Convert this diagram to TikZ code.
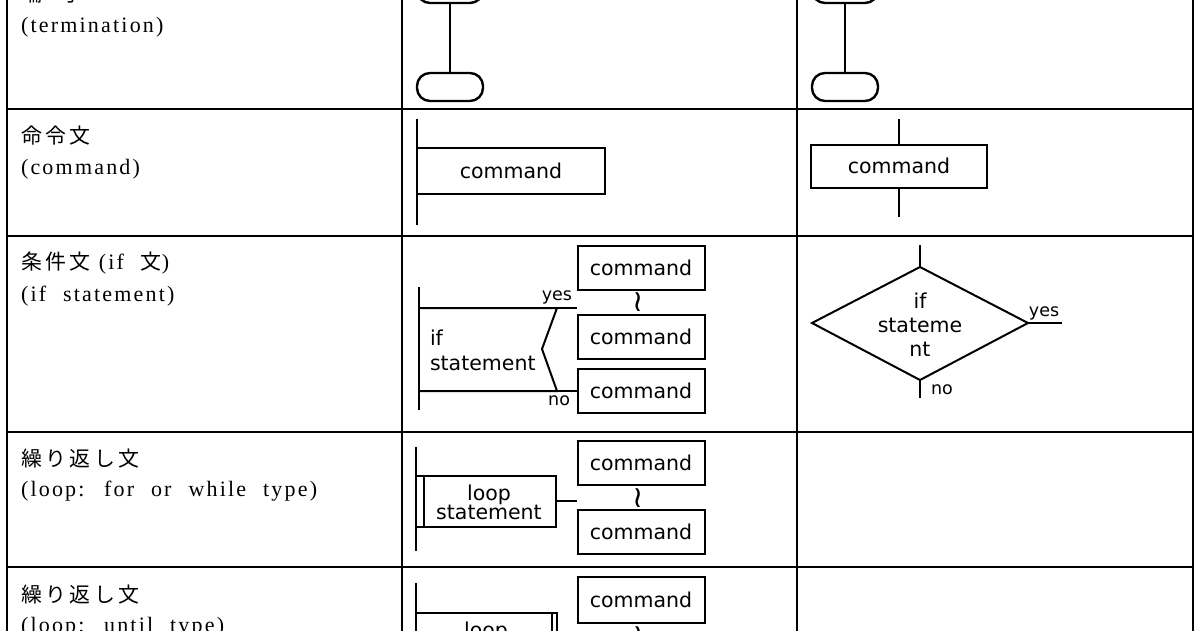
\documentclass[tikz,border=0pt]{standalone}
\usepackage{fontspec}
\setmainfont{Liberation Serif}
\newfontfamily\jpf{Noto Sans CJK JP}[Scale=0.95]
\newfontfamily\lab{Liberation Serif}[LetterSpace=10,WordSpace=2.2]
\newfontfamily\dvs{DejaVu Sans}
\begin{document}
\begin{tikzpicture}[x=1pt,y=-1pt,line width=2pt,
  tbl/.style={line width=1.6pt},
  cbox/.style={draw,line width=2pt,minimum width=127pt,minimum height=44pt,inner sep=0pt,font=\dvs\fontsize{20.5}{24}\selectfont},
  term/.style={draw,line width=2.4pt,rounded corners=13pt,minimum width=66pt,minimum height=28pt},
  lbl/.style={anchor=west,inner sep=0pt,font=\fontsize{22}{26}\selectfont},
  dt/.style={inner sep=0pt,font=\dvs\fontsize{20.5}{24}\selectfont},
  wv/.style={inner sep=0pt,font=\dvs\fontsize{30}{30}\selectfont},
  st/.style={inner sep=0pt,font=\dvs\fontsize{17.5}{20}\selectfont}]
\useasboundingbox (0,0) rectangle (1200,630);
\clip (0,0) rectangle (1200,630);
% table
\draw[tbl] (7,-10) -- (7,640) (402,-10) -- (402,640) (797,-10) -- (797,640) (1193,-10) -- (1193,640);
\foreach \y in {109,236,432,567} \draw[tbl] (7,\y) -- (1193,\y);
% left labels
\node[lbl] (l1a) at (20,-6) {\jpf 端　子};
\node[lbl] (l1b) at (20,27) {\lab (termination)};
\node[lbl] (l2a) at (20,136) {\jpf 命\,令\,文};
\node[lbl] (l2b) at (20,169) {\lab (command)};
\node[lbl] (l3a) at (20,263) {\jpf 条\,件\,文\, \lab (if \jpf 文\lab )};
\node[lbl] (l3b) at (20,296) {\lab (if statement)};
\node[lbl] (l4a) at (20,459) {\jpf 繰\,り\,返\,し\,文};
\node[lbl] (l4b) at (20,491) {\lab (loop: for or while type)};
\node[lbl] (l5a) at (20,595) {\jpf 繰\,り\,返\,し\,文};
\node[lbl] (l5b) at (20,627) {\lab (loop: until type)};
% row1 terminals
\node[term] (t1a) at (450,-11) {};
\node[term] (t1b) at (450,87) {};
\draw (t1a) -- (t1b);
\node[term] (t2a) at (845,-11) {};
\node[term] (t2b) at (845,87) {};
\draw (t2a) -- (t2b);
% row2
\draw (417,119) -- (417,225);
\node[cbox,minimum width=188pt,minimum height=46pt] (c1) at (511,171) {command};
\node[cbox,minimum width=176pt,minimum height=43pt] (c2) at (899,166) {command};
\coordinate (c2t) at (899,119); \coordinate (c2b) at (899,217);
\draw (c2t) -- (c2.north) (c2.south) -- (c2b);
% row3 PAD if
\draw (419,287) -- (419,410);
\coordinate (ya) at (557,308); \coordinate (ap) at (542,349); \coordinate (na) at (557,391);
\node[cbox] (i1) at (641,268) {command};
\node[cbox] (i2) at (641,337) {command};
\node[cbox] (i3) at (641,391) {command};
\draw (419,308) -- (ya) -- (ap) -- (na) -- (419,391);
\draw (ya) -- (i1.west |- ya);
\draw (na) -- (i3.west |- na);
\node[st,anchor=south east] (yes1) at (573,305) {yes};
\node[st,anchor=north east] (no1) at (571,395) {no};
\node[dt,anchor=west] (if1) at (429,338) {if};
\node[dt,anchor=west] (if2) at (429,363) {statement};
\node[wv] (w1) at (638,302) {≀};
% row3 diamond
\coordinate (dt) at (920,267); \coordinate (dr) at (1028,323); \coordinate (db) at (920,380); \coordinate (dl) at (812,323);
\draw (dt) -- (dr) -- (db) -- (dl) -- cycle;
\draw (920,245) -- (dt) (db) -- (920,398) (dr) -- (1062,323);
\node[dt,align=center] (dtext) at (920,325) {if\\[0pt]stateme\\[0pt]nt};
\node[st,anchor=south] (yes2) at (1044,321) {yes};
\node[st,anchor=west] (no2) at (930,390) {no};
% row4
\draw (416,447) -- (416,551);
\node[draw,minimum width=140pt,minimum height=51pt,inner sep=0pt] (lp) at (486,501) {};
\draw (424,475.5) -- (424,526.5);
\node[dt,align=center] (lpt) at (489,502) {loop\\[-5pt]statement};
\node[cbox] (r1) at (641,463) {command};
\node[cbox] (r2) at (641,532) {command};
\draw (lp.east) -- (r1.west |- lp.east);
\node[wv] (w2) at (638,498) {≀};
% row5
\draw (416,583) -- (416,650);
\node[draw,minimum width=141pt,minimum height=51pt,inner sep=0pt] (lq) at (486.5,638.5) {};
\draw (552,613) -- (552,664);
\node[dt] (lqt) at (486,632) {loop};
\node[cbox,minimum height=46pt] (r3) at (641,600) {command};
\node[wv] (w3) at (638,636) {≀};
\end{tikzpicture}
\end{document}
